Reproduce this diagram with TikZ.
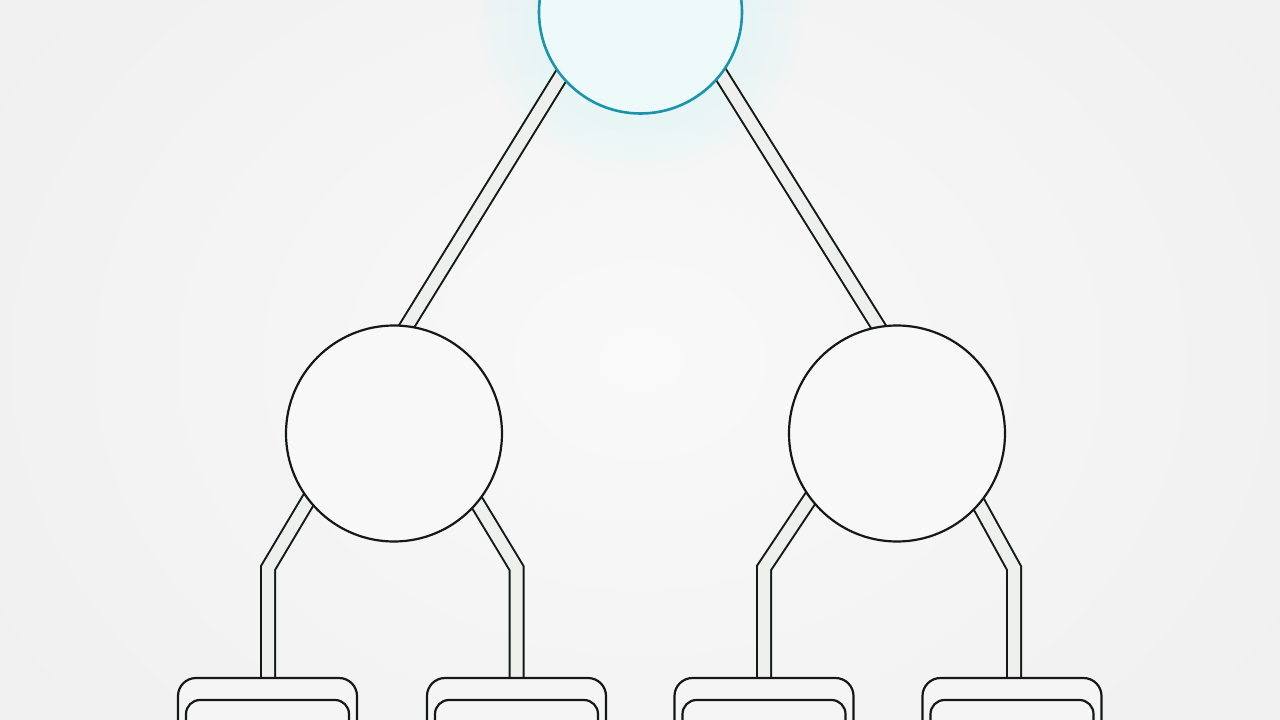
\documentclass[tikz,border=0pt]{standalone}
\pgfdeclarelayer{bgl}
\pgfdeclarelayer{links}
\pgfsetlayers{bgl,links,main}
\definecolor{bgin}{HTML}{F9F9F9}
\definecolor{bgout}{HTML}{EFEFEF}
\definecolor{linkfill}{HTML}{EEF0EE}
\definecolor{teal1}{HTML}{1A93AC}
\definecolor{topfill}{HTML}{EEF9FA}
\definecolor{glowc}{HTML}{E6FAFC}
\definecolor{inkc}{HTML}{141816}
\definecolor{circfill}{HTML}{F8F8F8}
\definecolor{boxfill}{HTML}{F5F5F5}
\begin{document}
\begin{tikzpicture}[x=1pt,y=-1pt,
  conn/.style={draw=inkc, line width=2pt, double=linkfill, double distance=12pt, line join=miter},
  topc/.style={circle, draw=teal1, line width=2.6pt, fill=topfill, inner sep=0pt, minimum size=203pt},
  midc/.style={circle, draw=inkc, line width=2.2pt, fill=circfill, inner sep=0pt, minimum size=216pt},
  outbox/.style={rectangle, rounded corners=18pt, draw=inkc, line width=2.2pt, fill=boxfill, inner sep=0pt, minimum width=179pt, minimum height=110pt},
  inbox/.style={rectangle, rounded corners=14pt, draw=inkc, line width=2.2pt, fill=boxfill, inner sep=0pt, minimum width=163pt, minimum height=100pt}]
\useasboundingbox (0,0) rectangle (1280,720);
\begin{pgfonlayer}{bgl}
  \shade[inner color=bgin, outer color=bgout] (-200,-300) rectangle (1480,1020);
  \foreach \r in {104,110,...,164} \fill[glowc, opacity=0.12] (640.5,12) circle[radius=\r pt];
\end{pgfonlayer}

% circles
\node[topc] (t) at (640.5,12) {};
\node[midc] (l) at (394,433.5) {};
\node[midc] (r) at (897,433.5) {};

% boxes
\node[outbox] (b1) at (267.5,733) {};
\node[inbox] (b1i) at (267.5,750) {};
\node[outbox] (b2) at (516.5,733) {};
\node[inbox] (b2i) at (516.5,750) {};
\node[outbox] (b3) at (764,733) {};
\node[inbox] (b3i) at (764,750) {};
\node[outbox] (b4) at (1012,733) {};
\node[inbox] (b4i) at (1012,750) {};

% kinks
\coordinate (k1) at (268,568);
\coordinate (k2) at (516.5,568);
\coordinate (k3) at (764,568);
\coordinate (k4) at (1014,568);

\begin{pgfonlayer}{links}
  \draw[conn, shorten <=-12pt, shorten >=-12pt] (t.219.6) -- (l.83);
  \draw[conn, shorten <=-12pt, shorten >=-12pt] (t.322.2) -- (r.100.1);
  \draw[conn, shorten <=-12pt, shorten >=-4pt] (l.218.5) -- (k1) -- (k1 |- b1.north);
  \draw[conn, shorten <=-12pt, shorten >=-4pt] (l.320) -- (k2) -- (k2 |- b2.north);
  \draw[conn, shorten <=-12pt, shorten >=-4pt] (r.217.6) -- (k3) -- (k3 |- b3.north);
  \draw[conn, shorten <=-12pt, shorten >=-4pt] (r.319.8) -- (k4) -- (k4 |- b4.north);
\end{pgfonlayer}
\end{tikzpicture}
\end{document}
